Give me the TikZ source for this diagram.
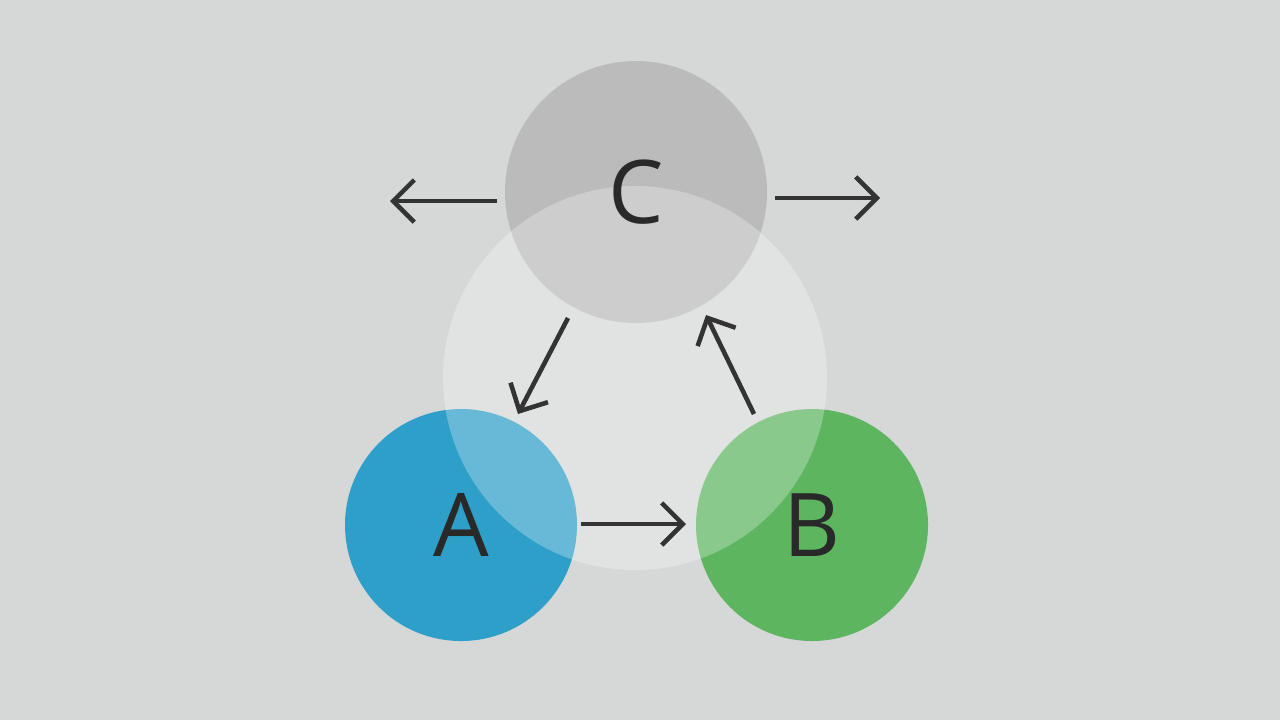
\documentclass[tikz,border=0pt]{standalone}
\usepackage{fontspec}
\setmainfont{Open Sans}
\usetikzlibrary{arrows.meta}
\definecolor{bg}{HTML}{D6D7D7}
\definecolor{ca}{HTML}{2E9FC8}
\definecolor{cb}{HTML}{5DB560}
\definecolor{cc}{HTML}{BBBBBB}
\definecolor{ink}{HTML}{333333}
\tikzset{lbl/.style={font=\fontsize{25}{30}\selectfont, text=ink!80!black},
 conn/.style={draw=ink, line width=1.3pt, -{Straight Barb[length=6pt,width=12pt,line width=1.3pt]}}}
\begin{document}
\begin{tikzpicture}[x=0.01cm,y=-0.01cm]
\fill[bg] (0,0) rectangle (1280,720);
\fill[ca] (461,525) circle (116);
\fill[cb] (812,525) circle (116);
\fill[cc] (636,192) circle (131);
\fill[white,opacity=0.28] (635,378) circle (192);
\node[lbl] (A) at (461,525) {A};
\node[lbl] (B) at (812,525) {B};
\node[lbl] (C) at (636,192) {C};
\coordinate (cl0) at (497,201); \coordinate (cl1) at (390,201);
\coordinate (cr0) at (775,198); \coordinate (cr1) at (880,198);
\coordinate (ca0) at (568,318); \coordinate (ca1) at (518,414);
\coordinate (bc0) at (754,414); \coordinate (bc1) at (706,315);
\coordinate (ab0) at (581,524); \coordinate (ab1) at (686,524);
\draw[conn] (cl0) -- (cl1);
\draw[conn] (cr0) -- (cr1);
\draw[conn] (ca0) -- (ca1);
\draw[conn] (bc0) -- (bc1);
\draw[conn] (ab0) -- (ab1);
\end{tikzpicture}
\end{document}
